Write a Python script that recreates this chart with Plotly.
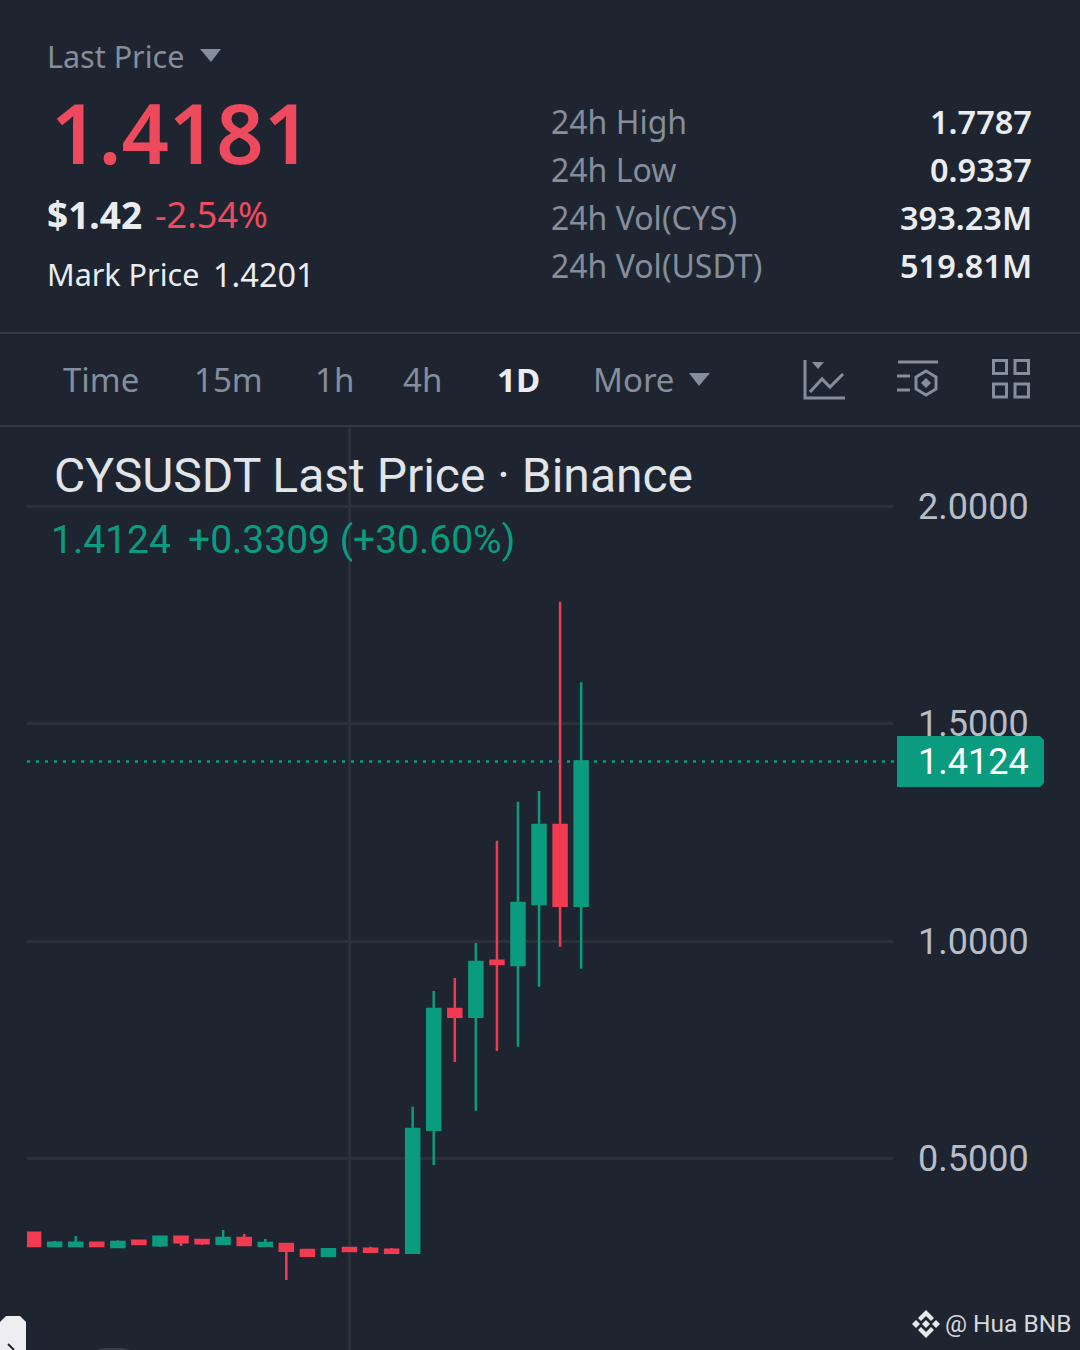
import plotly.graph_objects as go

BG = "#1E2530"
GREEN = "#0B9B7F"
RED = "#F23A50"
TEXT_RED = "#EE4A5E"
GRID = "#2B313B"
GREY = "#848E9C"
LIGHT = "#B7BDC6"
WHITE = "#EAECEF"
HEAD_FONT = "Noto Sans"
CHART_FONT = "Roboto"

W, H = 1080, 1350

# candles
opens = [0.3294, 0.2989, 0.2989, 0.3064, 0.2966, 0.3110, 0.3004, 0.3202, 0.3126, 0.3041,
         0.3172, 0.2995, 0.3034, 0.2896, 0.2765, 0.2943, 0.2927, 0.2904, 0.2834, 0.5662,
         0.8437, 0.8260, 0.9547, 0.9448, 1.0850, 1.2667, 1.0811]
closes = [0.2989, 0.3064, 0.3064, 0.2989, 0.3080, 0.3034, 0.3202, 0.3073, 0.3050, 0.3172,
          0.3011, 0.3057, 0.2880, 0.2765, 0.2913, 0.2874, 0.2857, 0.2834, 0.5678, 0.8437,
          0.8260, 0.9517, 0.9471, 1.0873, 1.2667, 1.0811, 1.4124]
highs = [0.3294, 0.3103, 0.3218, 0.3064, 0.3119, 0.3133, 0.3218, 0.3225, 0.3126, 0.3356,
         0.3264, 0.3149, 0.3057, 0.2896, 0.2943, 0.2972, 0.2972, 0.2943, 0.6190, 0.8851,
         0.9149, 0.9954, 1.2306, 1.3202, 1.3448, 1.7800, 1.5947]
lows = [0.2989, 0.2989, 0.2989, 0.2958, 0.2966, 0.3011, 0.2966, 0.2989, 0.3011, 0.3041,
        0.3011, 0.2995, 0.2207, 0.2736, 0.2765, 0.2874, 0.2857, 0.2834, 0.2828, 0.4851,
        0.7218, 0.6098, 0.7471, 0.7570, 0.8949, 0.9869, 0.9363]
price_ticks = [0.5, 1.0, 1.5, 2.0]
last_close = 1.4124

stats = [("24h High", "1.7787"), ("24h Low", "0.9337"),
         ("24h Vol(CYS)", "393.23M"), ("24h Vol(USDT)", "519.81M")]
intervals = [("Time", 62), ("15m", 193), ("1h", 314), ("4h", 402), ("1D", 496), ("More", 592)]


def px(x):
    return x / W


def py(y):
    return 1 - y / H


def add_text(fig, x, y, text, size, color, anchor="left", weight=400, family=HEAD_FONT):
    fig.add_annotation(
        x=px(x), y=py(y), xref="paper", yref="paper",
        text=text, showarrow=False, xanchor=anchor, yanchor="middle",
        borderpad=0,
        font=dict(family=family, size=size, color=color, weight=weight),
    )


def add_path(fig, path, fill=None, line=None, width=0, above=True):
    # path is written in page pixels, turned into paper coordinates here
    out = []
    for part in path.split():
        if part == "Z":
            out.append("Z")
        else:
            x, y = part[1:].split(",")
            out.append(f"{part[0]}{px(float(x)):.5f},{py(float(y)):.5f}")
    fig.add_shape(
        type="path", xref="paper", yref="paper", path=" ".join(out),
        fillcolor=fill if fill else "rgba(0,0,0,0)",
        line=dict(color=line if line else "rgba(0,0,0,0)", width=width),
        layer="above" if above else "below",
    )


def add_box(fig, x0, y0, x1, y1, color, width=3):
    fig.add_shape(
        type="rect", xref="paper", yref="paper",
        x0=px(x0), x1=px(x1), y0=py(y0), y1=py(y1),
        line=dict(color=color, width=width), layer="above",
    )


def draw_header(fig):
    add_text(fig, 46, 56, "Last Price", 30.5, GREY)
    add_path(fig, "M200,49 L221,49 L211,62 Z", fill=GREY)
    add_text(fig, 50, 132, "1.4181", 83, TEXT_RED, weight=600)
    add_text(fig, 46, 215, "$1.42", 37, WHITE, weight=700)
    add_text(fig, 154, 215, "-2.54%", 36, TEXT_RED)
    add_text(fig, 46, 274, "Mark Price", 30.5, WHITE)
    add_text(fig, 212, 274, "1.4201", 32.5, WHITE)
    for i, (label, value) in enumerate(stats):
        y = 122 + i * 47.7
        add_text(fig, 550, y, label, 32, GREY)
        add_text(fig, 1033, y, value, 32.5, WHITE, anchor="right", weight=600)


def draw_toolbar(fig):
    for name, x in intervals:
        active = name == "1D"
        add_text(fig, x, 380, name, 33, WHITE if active else GREY, weight=700 if active else 400)
    add_path(fig, "M689,373 L710,373 L699,386 Z", fill=GREY)

    # chart style icon
    add_path(fig, "M805,360 L805,398 L845,398", line=GREY, width=3)
    add_path(fig, "M810,392 L822,379 L830,387 L843,374", line=GREY, width=3)
    add_path(fig, "M812,362 L824,362 L818,369 Z", fill=GREY)
    # indicator icon
    add_path(fig, "M898,362 L938,362", line=GREY, width=3)
    add_path(fig, "M897,376 L910,376", line=GREY, width=3)
    add_path(fig, "M897,390 L910,390", line=GREY, width=3)
    add_path(fig, "M926,371 L936,377 L936,389 L926,395 L916,389 L916,377 Z", line=GREY, width=3)
    add_path(fig, "M926,378 L931,383 L926,388 L921,383 Z", fill=GREY)
    # layout icon
    add_box(fig, 993.5, 360.5, 1006.5, 373.5, GREY)
    add_box(fig, 1015, 360.5, 1028.5, 373.5, GREY)
    add_box(fig, 993.5, 384, 1006.5, 397, GREY)
    add_box(fig, 1015, 384, 1028.5, 397, GREY)


def draw_footer(fig):
    # binance mark
    mark = ["M926,1310 L934,1318 L931,1321 L926,1316 L921,1321 L918,1318 Z",
            "M926,1338 L934,1330 L931,1327 L926,1332 L921,1327 L918,1330 Z",
            "M916,1320 L920,1324 L916,1328 L912,1324 Z",
            "M936,1320 L940,1324 L936,1328 L932,1324 Z",
            "M926,1320 L930,1324 L926,1328 L922,1324 Z"]
    for part in mark:
        add_path(fig, part, fill="#E6E8EA")
    add_text(fig, 944, 1323, "@ Hua BNB", 24.5, "#D5D8DC", family=CHART_FONT)

    # bits of the phone overlay at the bottom edge
    add_path(fig, "M0,1350 L0,1322 L6,1316 L20,1316 L26,1322 L26,1350 Z", fill="#EEEEF0")
    add_path(fig, "M8,1344 L14,1350", line="#222222", width=2)
    add_path(fig, "M96,1350 L104,1348 L122,1348 L130,1350 Z", fill="#3A3F47")


fig = go.Figure()

fig.add_trace(
    go.Candlestick(
        x=list(range(len(opens))),
        open=opens, high=highs, low=lows, close=closes,
        increasing=dict(line=dict(color=GREEN, width=2.5), fillcolor=GREEN),
        decreasing=dict(line=dict(color=RED, width=2.5), fillcolor=RED),
        whiskerwidth=0,
        showlegend=False,
        hoverinfo="skip",
    )
)

fig.update_layout(
    width=W,
    height=H,
    margin=dict(l=0, r=0, t=0, b=0),
    plot_bgcolor=BG,
    paper_bgcolor=BG,
    showlegend=False,
    boxgap=0.12,
    font=dict(family=CHART_FONT),
)

# x: candle 0 sits at pixel 34, one candle is 21.06 px
fig.update_xaxes(
    domain=[px(27), px(893)],
    range=[(27 - 33.6) / 21.06, (893 - 33.6) / 21.06],
    rangeslider=dict(visible=False),
    tickvals=[15],
    ticktext=[""],
    showgrid=True,
    gridcolor=GRID,
    gridwidth=2.5,
    zeroline=False,
    showline=False,
)
# y: 1.0 of price is 435 px, 2.0000 sits at pixel 506
fig.update_yaxes(
    domain=[0, py(428)],
    range=[2 - (1350 - 506) / 435, 2 + (506 - 428) / 435],
    side="right",
    tickvals=price_ticks,
    tickformat=".4f",
    tickfont=dict(family=CHART_FONT, size=36, color=LIGHT),
    ticklabelstandoff=24,
    ticks="",
    showgrid=True,
    gridcolor=GRID,
    gridwidth=2.5,
    zeroline=False,
    showline=False,
)

# divider lines
for y in (333, 426):
    fig.add_shape(type="line", xref="paper", yref="paper", x0=0, x1=1, y0=py(y), y1=py(y),
                  line=dict(color="#343A44", width=2), layer="above")

# last price line and tag
fig.add_shape(type="line", xref="paper", yref="y", x0=px(27), x1=px(896),
              y0=last_close, y1=last_close,
              line=dict(color=GREEN, width=2.5, dash="3px,6px"), layer="below")
add_path(fig, "M897,736 L1040,736 L1044,740 L1044,783 L1040,787 L897,787 Z", fill=GREEN)
add_text(fig, 973.5, 762, f"{last_close:.4f}", 36, "#FFFFFF", anchor="center", family=CHART_FONT)

add_text(fig, 53, 475, "CYSUSDT Last Price · Binance", 48, "#E1E4E8", family=CHART_FONT)
add_text(fig, 50, 540, "1.4124", 39, GREEN, family=CHART_FONT)
add_text(fig, 187, 540, "+0.3309 (+30.60%)", 39, GREEN, family=CHART_FONT)

draw_header(fig)
draw_toolbar(fig)
draw_footer(fig)

fig.write_html(
    "out.html",
    config=dict(displayModeBar=False),
    post_script="document.body.style.margin='0';document.body.style.overflow='hidden';",
)
